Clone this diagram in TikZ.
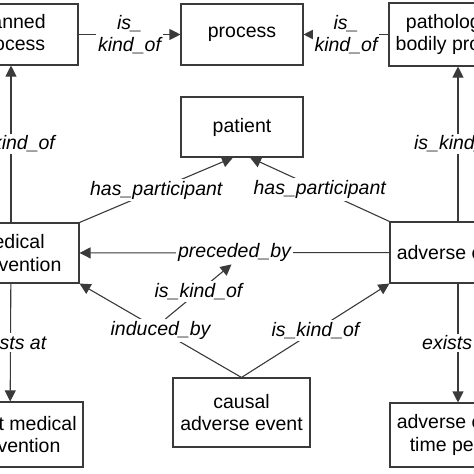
\documentclass[tikz,border=0pt]{standalone}
\usepackage{fontspec}
\setmainfont{Liberation Sans}
\usetikzlibrary{arrows.meta}
\definecolor{aegrey}{HTML}{3A3A3A}
\tikzset{
  ae map/.style={
    x=1pt,
    y=-1pt,
    line width=1.1pt,
    font=\fontsize{19.5}{22.5}\selectfont
  },
  ae box/.style={
    draw=aegrey,
    align=center,
    inner sep=2pt
  },
  ae link/.style={
    draw=aegrey,
    -{Triangle[length=11pt,width=11pt]}
  },
  ae label/.style={
    fill=white,
    font=\fontsize{19.5}{22.5}\selectfont\itshape,
    inner sep=2pt,
    align=center
  }
}

\begin{document}
\begin{tikzpicture}[ae map]
  \useasboundingbox (0,0) rectangle (474,474);
  \clip (0,0) rectangle (474,474);

  % boxes
  \node[ae box, minimum width=134pt, minimum height=61pt] (planned) at (11,34.5) {planned\\process};
  \node[ae box, minimum width=122pt, minimum height=61pt] (process) at (242,34.5) {process};
  \node[ae box, minimum width=138pt, minimum height=63pt] (patho) at (458,34.5) {pathological\\bodily process};
  \node[ae box, minimum width=122pt, minimum height=60pt] (patient) at (242,127) {patient};
  \node[ae box, minimum width=136pt, minimum height=60pt] (medint) at (11,253) {medical\\intervention};
  \node[ae box, minimum width=136pt, minimum height=61pt] (adverse) at (458,252.5) {adverse event};
  \node[ae box, minimum width=137pt, minimum height=69pt] (causal) at (241.5,412.5) {causal\\adverse event};
  \node[ae box, minimum width=146pt, minimum height=65pt] (curmed) at (10,434.5) {current medical\\intervention};
  \node[ae box, minimum width=136pt, minimum height=64pt] (aetime) at (458,435) {adverse event\\time period};

  % relations
  \draw[ae link] (planned) -- node[ae label] {is\_\\kind\_of} (process);
  \draw[ae link] (patho) -- node[ae label] {is\_\\kind\_of} (process);
  \draw[ae link] (medint) -- node[ae label] {is\_kind\_of} (planned);
  \draw[ae link] (adverse) -- node[ae label] {is\_kind\_of} (patho);
  \draw[ae link] (medint.north east) -- node[ae label] {has\_participant} ([xshift=-9pt]patient.south);
  \draw[ae link] (adverse.north west) -- node[ae label] {has\_participant} ([xshift=8pt]patient.south);
  \draw[ae link] (adverse) -- node[ae label] (precby) {preceded\_by} (medint);
  \draw[ae link] (causal.north) -- node[ae label] (indby) {induced\_by} (medint.south east);
  \draw[ae link] (causal.north) -- node[ae label] {is\_kind\_of} (adverse.south west);
  \draw[ae link] ([xshift=5pt]indby.north) -- node[ae label] {is\_kind\_of} ([xshift=-3pt]precby.south);
  \draw[ae link] (medint) -- node[ae label] {exists at} (curmed);
  \draw[ae link] (adverse) -- node[ae label] {exists at} (aetime);
\end{tikzpicture}
\end{document}
